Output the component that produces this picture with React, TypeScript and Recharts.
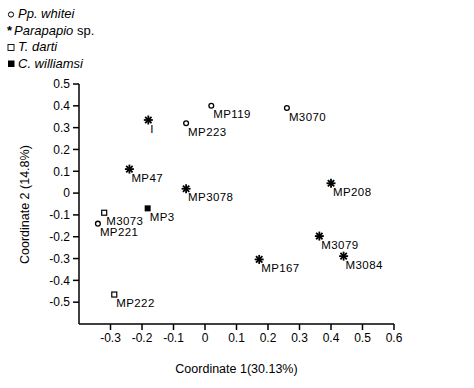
import { ScatterChart, Scatter, XAxis, YAxis } from "recharts"

// sample points per group: [coord1, coord2, label]
const whitei = [
  { x: 0.02, y: 0.4, name: "MP119" },
  { x: 0.26, y: 0.39, name: "M3070" },
  { x: -0.06, y: 0.32, name: "MP223" },
  { x: -0.34, y: -0.14, name: "MP221" },
]
const parapapio = [
  { x: -0.18, y: 0.335, name: "I" },
  { x: -0.24, y: 0.11, name: "MP47" },
  { x: -0.06, y: 0.02, name: "MP3078" },
  { x: 0.4, y: 0.045, name: "MP208" },
  { x: 0.363, y: -0.197, name: "M3079" },
  { x: 0.44, y: -0.289, name: "M3084" },
  { x: 0.172, y: -0.304, name: "MP167" },
]
const darti = [
  { x: -0.32, y: -0.09, name: "M3073" },
  { x: -0.288, y: -0.465, name: "MP222" },
]
const williamsi = [{ x: -0.182, y: -0.07, name: "MP3" }]

const xTicks = [-0.3, -0.2, -0.1, 0, 0.1, 0.2, 0.3, 0.4, 0.5, 0.6]
const yTicks = [0.5, 0.4, 0.3, 0.2, 0.1, 0, -0.1, -0.2, -0.3, -0.4, -0.5]

const font = "'Liberation Sans', Arial, sans-serif"

function Label({ cx, cy, name }: any) {
  return (
    <text x={cx + 2} y={cy + 12.5} fontSize={11.5} fontFamily={font} fill="#000" letterSpacing={0.4}>
      {name}
    </text>
  )
}

const circle = (p: any) => (
  <g>
    <circle cx={p.cx} cy={p.cy} r={2.4} fill="#fff" stroke="#000" strokeWidth={1.3} />
    <Label cx={p.cx} cy={p.cy} name={p.payload.name} />
  </g>
)

const star = (p: any) => {
  const r = 4.5
  const lines = [0, 45, 90, 135].map((a) => {
    const t = (a * Math.PI) / 180
    return (
      <line
        key={a}
        x1={p.cx - r * Math.cos(t)}
        y1={p.cy - r * Math.sin(t)}
        x2={p.cx + r * Math.cos(t)}
        y2={p.cy + r * Math.sin(t)}
        stroke="#000"
        strokeWidth={1.8}
      />
    )
  })
  return (
    <g>
      {lines}
      <Label cx={p.cx} cy={p.cy} name={p.payload.name} />
    </g>
  )
}

const openSquare = (p: any) => (
  <g>
    <rect x={p.cx - 2.5} y={p.cy - 2.5} width={5} height={5} fill="#fff" stroke="#000" strokeWidth={1.2} />
    <Label cx={p.cx} cy={p.cy} name={p.payload.name} />
  </g>
)

const filledSquare = (p: any) => (
  <g>
    <rect x={p.cx - 3} y={p.cy - 3} width={6} height={6} fill="#000" />
    <Label cx={p.cx} cy={p.cy} name={p.payload.name} />
  </g>
)

function KeyBox() {
  const row = { height: 16.5, display: "flex", alignItems: "center" } as const
  const it = { fontStyle: "italic" } as const
  return (
    <div
      style={{
        position: "absolute",
        left: 7,
        top: 6,
        fontFamily: font,
        fontSize: 13,
        color: "#000",
        lineHeight: "16px",
      }}
    >
      <div style={row}>
        <svg width={9} height={9} style={{ marginRight: 2 }}>
          <circle cx={4} cy={4.5} r={2.6} fill="none" stroke="#000" strokeWidth={1} />
        </svg>
        <span style={it}>Pp. whitei</span>
      </div>
      <div style={row}>
        <span style={{ fontWeight: "bold", marginRight: 2 }}>*</span>
        <span style={it}>Parapapio</span>&nbsp;sp.
      </div>
      <div style={row}>
        <svg width={9} height={9} style={{ marginRight: 2 }}>
          <rect x={1} y={1.5} width={6} height={6} fill="none" stroke="#000" strokeWidth={0.9} />
        </svg>
        <span style={it}>T. darti</span>
      </div>
      <div style={row}>
        <svg width={9} height={9} style={{ marginRight: 2 }}>
          <rect x={1} y={1.5} width={6.5} height={6.5} fill="#000" />
        </svg>
        <span style={it}>C. williamsi</span>
      </div>
    </div>
  )
}

export default function App() {
  const tick = { fontSize: 12, fontFamily: font, fill: "#000" }
  return (
    <div style={{ position: "absolute", left: 0, top: 0, width: 474, height: 388, background: "#fff" }}>
      <ScatterChart width={474} height={388} margin={{ top: 84, right: 80, left: 29, bottom: 34 }}>
        <XAxis
          type="number"
          dataKey="x"
          domain={[-0.4, 0.6]}
          ticks={xTicks}
          interval={0}
          tick={tick}
          tickLine={{ stroke: "#000", strokeWidth: 1.5 }}
          axisLine={{ stroke: "#000", strokeWidth: 1.5 }}
          tickSize={6}
          tickMargin={3}
          height={30}
          allowDataOverflow
          label={{ value: "Coordinate 1(30.13%)", position: "insideBottom", offset: -19, style: { fontSize: 12.5, fontFamily: font, fill: "#000" } }}
        />
        <YAxis
          type="number"
          dataKey="y"
          domain={[-0.6, 0.5]}
          ticks={yTicks}
          interval={0}
          tick={tick}
          tickLine={{ stroke: "#000", strokeWidth: 1.5 }}
          axisLine={{ stroke: "#000", strokeWidth: 1.5 }}
          tickSize={6}
          tickMargin={3}
          width={50}
          allowDataOverflow
          label={{ value: "Coordinate 2 (14.8%)", angle: -90, position: "insideLeft", offset: -4, dy: 60, style: { fontSize: 12.5, fontFamily: font, fill: "#000" } }}
        />
        <Scatter name="Pp. whitei" data={whitei} shape={circle} isAnimationActive={false} />
        <Scatter name="Parapapio sp." data={parapapio} shape={star} isAnimationActive={false} />
        <Scatter name="T. darti" data={darti} shape={openSquare} isAnimationActive={false} />
        <Scatter name="C. williamsi" data={williamsi} shape={filledSquare} isAnimationActive={false} />
      </ScatterChart>
      <KeyBox />
    </div>
  )
}
